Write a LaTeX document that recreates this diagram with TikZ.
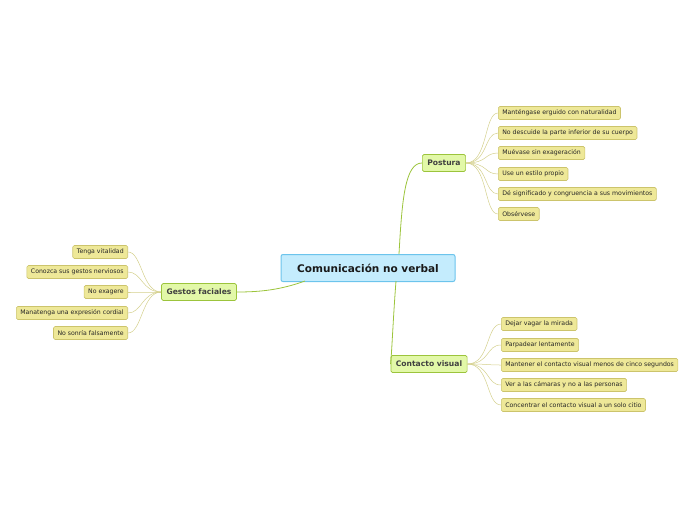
\documentclass[tikz,border=0pt]{standalone}
\usepackage{fontspec}
\setmainfont{DejaVu Sans}
\definecolor{rootfill}{HTML}{C4ECFD}
\definecolor{rootdraw}{HTML}{6CC4EC}
\definecolor{mainfill}{HTML}{E2F8A8}
\definecolor{maindraw}{HTML}{9CC43C}
\definecolor{leaffill}{HTML}{EEE898}
\definecolor{leafdraw}{HTML}{CCC46C}
\definecolor{mline}{HTML}{9CC43C}
\definecolor{lline}{HTML}{D4D08C}
\begin{document}
\begin{tikzpicture}[x=1pt,y=-1pt,
 rootbox/.style={draw=rootdraw,line width=1pt,fill=rootfill,rounded corners=2pt,minimum width=174pt,minimum height=27pt,font=\fontsize{10.5}{12}\selectfont\bfseries,text=black!90},
 mainbox/.style={draw=maindraw,line width=0.7pt,fill=mainfill,rounded corners=1.5pt,minimum height=17pt,inner xsep=5pt,font=\fontsize{7.6}{9}\selectfont\bfseries,text=black!75},
 leafbox/.style={draw=leafdraw,line width=0.6pt,fill=leaffill,rounded corners=1.5pt,minimum height=13pt,inner xsep=4pt,inner ysep=1pt,font=\fontsize{6.2}{7}\selectfont,text=black!85},
 mainline/.style={draw=mline,line width=0.8pt},
 leafline/.style={draw=lline,line width=0.5pt}]
\useasboundingbox (0,0) rectangle (696,520);
\node[rootbox] (root) at (368,268) {Comunicación no verbal};
\node[mainbox] (p) at (444,163) {Postura};
\node[mainbox] (g) at (199,292) {Gestos faciales};
\node[mainbox] (c) at (429,364) {Contacto visual};
\draw[mainline] (399,254) .. controls (402,200) and (405,163) .. (p.west);
\draw[mainline] (305,281) .. controls (280,290) and (260,292) .. (g.east);
\draw[mainline] (396,281) .. controls (393,320) and (392,350) .. (c.west);
\foreach \t/\y [count=\i] in {Manténgase erguido con naturalidad/113,No descuide la parte inferior de su cuerpo/133,Muévase sin exageración/153,Use un estilo propio/174,Dé significado y congruencia a sus movimientos/194,Obsérvese/214}{
 \node[leafbox,anchor=west] (p\i) at (498,\y) {\t};
 \draw[leafline] (p.east) .. controls (488,163) and (484,\y) .. (p\i.west);}
\foreach \t/\y [count=\i] in {Tenga vitalidad/252,Conozca sus gestos nerviosos/272,No exagere/292,Manatenga una expresión cordial/313,No sonría falsamente/333}{
 \node[leafbox,anchor=east] (g\i) at (128,\y) {\t};
 \draw[leafline] (g.west) .. controls (142,292) and (142,\y) .. (g\i.east);}
\foreach \t/\y [count=\i] in {Dejar vagar la mirada/324,Parpadear lentamente/345,Mantener el contacto visual menos de cinco segundos/365,Ver a las cámaras y no a las personas/385,Concentrar el contacto visual a un solo citio/405}{
 \node[leafbox,anchor=west] (c\i) at (501,\y) {\t};
 \draw[leafline] (c.east) .. controls (490,364) and (486,\y) .. (c\i.west);}
\end{tikzpicture}
\end{document}
